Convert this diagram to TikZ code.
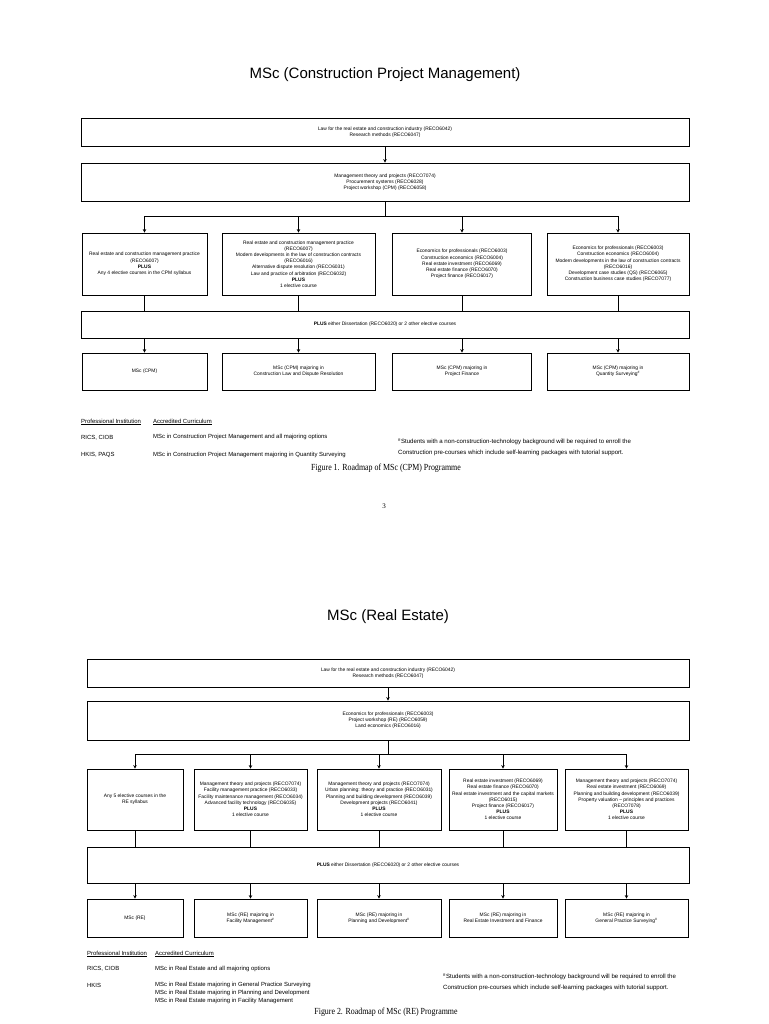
\documentclass[tikz,border=0pt]{standalone}
\usepackage{fontspec}
\setmainfont{Liberation Sans}
\newfontfamily\capfont[FakeStretch=0.85]{Liberation Serif}
\newfontfamily\pgfont{Liberation Serif}
\usetikzlibrary{arrows.meta}
\tikzset{
  box/.style={draw, line width=0.8pt, align=center, inner sep=1pt,
    font=\fontsize{4.9}{6.2}\selectfont},
  arr/.style={line width=0.75pt, -{Stealth[length=3.5pt,width=3.5pt]}},
  ln/.style={line width=0.75pt},
  title/.style={font=\fontsize{15}{18}\selectfont},
  caption/.style={font=\capfont\fontsize{9.3}{11}\selectfont},
  pagenum/.style={font=\pgfont\fontsize{7}{9}\selectfont},
  legend/.style={anchor=west, inner sep=0, font=\fontsize{5.95}{8}\selectfont, align=left},
  note/.style={anchor=west, inner sep=0, font=\fontsize{6.1}{10.5}\selectfont, align=left}
}
\begin{document}
\begin{tikzpicture}[x=1pt,y=-1pt]
\useasboundingbox (0,0) rectangle (768,1024);
\fill[white] (0,0) rectangle (768,1024);

% ================= Figure 1 =================
\node[title] (ti1) at (385,75) {MSc (Construction Project Management)};

\node[box, minimum width=608, minimum height=28] (t1) at (385,132)
  {Law for the real estate and construction industry (RECO6042)\\Research methods (RECO6047)};
\node[box, minimum width=608, minimum height=38] (t2) at (385,182)
  {Management theory and projects (RECO7074)\\Procurement systems (RECO6028)\\Project workshop (CPM) (RECO6058)};

\node[box, minimum width=125, minimum height=62] (ra) at (144.5,264)
  {Real estate and construction management practice\\(RECO6007)\\\textbf{PLUS}\\Any 4 elective courses in the CPM syllabus};
\node[box, minimum width=153, minimum height=62] (rb) at (298.5,264)
  {Real estate and construction management practice\\(RECO6007)\\Modern developments in the law of construction contracts\\(RECO6016)\\Alternative dispute resolution (RECO6031)\\Law and practice of arbitration (RECO6032)\\\textbf{PLUS}\\1 elective course};
\node[box, minimum width=139, minimum height=62] (rc) at (462,264)
  {Economics for professionals (RECO6003)\\Construction economics (RECO6004)\\Real estate investment (RECO6069)\\Real estate finance (RECO6070)\\Project finance (RECO6017)};
\node[box, minimum width=142, minimum height=62] (rd) at (618,264)
  {Economics for professionals (RECO6003)\\Construction economics (RECO6004)\\Modern developments in the law of construction contracts\\(RECO6016)\\Development case studies (QS) (RECO6065)\\Construction business case studies (RECO7077)};

\node[box, minimum width=608, minimum height=27] (p1) at (385,324.5)
  {\textbf{PLUS} either Dissertation (RECO6020) or 2 other elective courses};

\node[box, minimum width=125, minimum height=37] (oa) at (144.5,371.5) {MSc (CPM)};
\node[box, minimum width=153, minimum height=37] (ob) at (298.5,371.5)
  {MSc (CPM) majoring in\\Construction Law and Dispute Resolution};
\node[box, minimum width=139, minimum height=37] (oc) at (462,371.5)
  {MSc (CPM) majoring in\\Project Finance};
\node[box, minimum width=142, minimum height=37] (od) at (618,371.5)
  {MSc (CPM) majoring in\\Quantity Surveying\textsuperscript{\#}};

\draw[arr] (t1.south) -- (t2.north);
\coordinate (j1) at (385,216);
\draw[ln] (t2.south) -- (j1);
\foreach \n in {ra,rb,rc,rd} {
  \draw[arr] (j1) -| (\n.north);
  \draw[ln] (\n.south) -- (\n.south |- p1.north);
}
\draw[arr] (p1.south -| oa.north) -- (oa.north);
\draw[arr] (p1.south -| ob.north) -- (ob.north);
\draw[arr] (p1.south -| oc.north) -- (oc.north);
\draw[arr] (p1.south -| od.north) -- (od.north);

\node[legend] (h1a) at (81,422) {\underline{Professional Institution}};
\node[legend] (h1b) at (153,422) {\underline{Accredited Curriculum}};
\node[legend] (l1a) at (81,438) {RICS, CIOB};
\node[legend] (l1b) at (153,437) {MSc in Construction Project Management and all majoring options};
\node[legend] (l1c) at (81,455) {HKIS, PAQS};
\node[legend] (l1d) at (153,455) {MSc in Construction Project Management majoring in Quantity Surveying};
\node[note] (n1) at (398,447) {\textsuperscript{\#}Students with a non-construction-technology background will be required to enroll the\\Construction pre-courses which include self-learning packages with tutorial support.};
\node[caption] (c1) at (386,468) {Figure 1. Roadmap of MSc (CPM) Programme};
\node[pagenum] (pg) at (384,506) {3};

% ================= Figure 2 =================
\node[title] (ti2) at (388,617) {MSc (Real Estate)};

\node[box, minimum width=602, minimum height=28] (s1) at (388,673)
  {Law for the real estate and construction industry (RECO6042)\\Research methods (RECO6047)};
\node[box, minimum width=602, minimum height=39] (s2) at (388,720.5)
  {Economics for professionals (RECO6003)\\Project workshop (RE) (RECO6059)\\Land economics (RECO6016)};

\node[box, minimum width=96, minimum height=61] (qa) at (135,799.5)
  {Any 5 elective courses in the\\RE syllabus};
\node[box, minimum width=113, minimum height=61] (qb) at (250.5,799.5)
  {Management theory and projects (RECO7074)\\Facility management practice (RECO6033)\\Facility maintenance management (RECO6034)\\Advanced facility technology (RECO6035)\\\textbf{PLUS}\\1 elective course};
\node[box, minimum width=124, minimum height=61] (qc) at (379,799.5)
  {Management theory and projects (RECO7074)\\Urban planning: theory and practice (RECO6031)\\Planning and building development (RECO6039)\\Development projects (RECO6041)\\\textbf{PLUS}\\1 elective course};
\node[box, minimum width=108, minimum height=61] (qd) at (503,799.5)
  {Real estate investment (RECO6069)\\Real estate finance (RECO6070)\\Real estate investment and the capital markets\\(RECO6015)\\Project finance (RECO6017)\\\textbf{PLUS}\\1 elective course};
\node[box, minimum width=123, minimum height=61] (qe) at (626.5,799.5)
  {Management theory and projects (RECO7074)\\Real estate investment (RECO6069)\\Planning and building development (RECO6039)\\Property valuation -- principles and practices\\(RECO7078)\\\textbf{PLUS}\\1 elective course};

\node[box, minimum width=602, minimum height=36] (p2) at (388,865)
  {\textbf{PLUS} either Dissertation (RECO6020) or 2 other elective courses};

\node[box, minimum width=96, minimum height=38] (ua) at (135,918) {MSc (RE)};
\node[box, minimum width=113, minimum height=38] (ub) at (250.5,918)
  {MSc (RE) majoring in\\Facility Management\textsuperscript{\#}};
\node[box, minimum width=124, minimum height=38] (uc) at (379,918)
  {MSc (RE) majoring in\\Planning and Development\textsuperscript{\#}};
\node[box, minimum width=108, minimum height=38] (ud) at (503,918)
  {MSc (RE) majoring in\\Real Estate Investment and Finance};
\node[box, minimum width=123, minimum height=38] (ue) at (626.5,918)
  {MSc (RE) majoring in\\General Practice Surveying\textsuperscript{\#}};

\draw[arr] (s1.south) -- (s2.north);
\coordinate (j2) at (388,754);
\draw[ln] (s2.south) -- (j2);
\foreach \n in {qa,qb,qc,qd,qe} {
  \draw[arr] (j2) -| (\n.north);
  \draw[ln] (\n.south) -- (\n.south |- p2.north);
}
\draw[arr] (p2.south -| ua.north) -- (ua.north);
\draw[arr] (p2.south -| ub.north) -- (ub.north);
\draw[arr] (p2.south -| uc.north) -- (uc.north);
\draw[arr] (p2.south -| ud.north) -- (ud.north);
\draw[arr] (p2.south -| ue.north) -- (ue.north);

\node[legend] (h2a) at (87,954) {\underline{Professional Institution}};
\node[legend] (h2b) at (155,954) {\underline{Accredited Curriculum}};
\node[legend] (l2a) at (87,969) {RICS, CIOB};
\node[legend] (l2b) at (155,969) {MSc in Real Estate and all majoring options};
\node[legend] (l2c) at (87,985) {HKIS};
\node[legend, anchor=north west] (l2d) at (155,981.5) {MSc in Real Estate majoring in General Practice Surveying\\MSc in Real Estate majoring in Planning and Development\\MSc in Real Estate majoring in Facility Management};
\node[note] (n2) at (443,982) {\textsuperscript{\#}Students with a non-construction-technology background will be required to enroll the\\Construction pre-courses which include self-learning packages with tutorial support.};
\node[caption] (c2) at (386,1012) {Figure 2. Roadmap of MSc (RE) Programme};
\end{tikzpicture}
\end{document}
